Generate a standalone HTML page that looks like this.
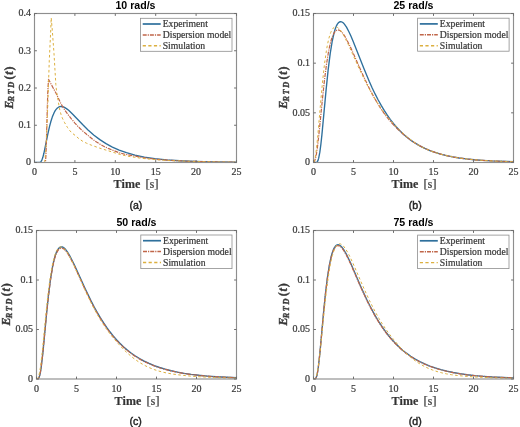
<!DOCTYPE html>
<html><head><meta charset="utf-8"><title>RTD curves</title><style>
html,body{margin:0;padding:0;background:#fff;}
svg{display:block;}
text{font-family:"Liberation Serif",serif;}
.tk,.lg,.xl,.yl{stroke:#444;stroke-width:0.22px;}
.tk{font-size:10.00px;fill:#333;}
.ti{font-family:"Liberation Sans",sans-serif;font-weight:bold;font-size:10.60px;fill:#000;}
.xl{font-size:11.50px;fill:#333;}
.xbr{font-size:12.90px;}
.xb{font-weight:bold;font-size:12.00px;letter-spacing:0.12px;}
.cap{font-family:"Liberation Sans",sans-serif;font-size:10.60px;fill:#222;stroke:#222;stroke-width:0.4px;}
.yl{font-weight:bold;font-style:italic;font-size:12.00px;fill:#333;stroke-width:0.4px;}
.ys{font-size:8.20px;letter-spacing:1.70px;}
.yp{font-size:12.00px;font-style:normal;letter-spacing:0.80px;}
.yt{font-style:italic;}
.lg{font-size:9.70px;fill:#333;}
</style></head><body>
<svg width="520" height="427" viewBox="0 0 520 427">
<defs><filter id="soft" x="0" y="0" width="100%" height="100%"><feGaussianBlur stdDeviation="0.6"/></filter></defs>
<rect width="520" height="427" fill="#fff"/>
<g filter="url(#soft)">
<clipPath id="clipa"><rect x="34.0" y="13.0" width="203.0" height="150.0"/></clipPath>
<g clip-path="url(#clipa)" fill="none" stroke-linejoin="round">
<path d="M34.50,162.50 L39.05,162.49 L39.95,162.38 L40.46,162.14 L40.96,161.69 L41.77,160.37 L42.78,157.59 L43.89,153.28 L47.83,134.07 L49.45,126.89 L50.86,121.53 L52.28,117.10 L54.20,112.51 L55.20,110.70 L56.32,109.14 L57.43,107.98 L58.54,107.19 L59.75,106.69 L61.06,106.51 L62.68,106.73 L64.50,107.44 L66.42,108.60 L68.64,110.34 L72.48,113.96 L82.58,124.55 L88.03,129.92 L93.99,135.17 L99.85,139.65 L106.01,143.65 L112.37,147.10 L119.14,150.11 L126.41,152.71 L135.00,155.10 L144.39,157.05 L154.79,158.62 L166.51,159.86 L179.74,160.79 L195.09,161.46 L213.47,161.93 L236.50,162.23" stroke="#2e6f9c" stroke-width="1.35" />
<path d="M34.50,162.50 L45.38,162.50 L45.48,162.23 L45.90,155.94 L46.18,148.66 L47.73,93.17 L48.50,79.30 L56.04,93.27 L60.75,103.22 L62.64,106.69 L64.99,110.36 L67.35,113.65 L71.59,119.10 L74.89,123.06 L78.18,126.67 L81.48,129.87 L89.02,136.36 L92.79,139.42 L96.56,142.05 L100.80,144.67 L104.57,146.70 L108.81,148.68 L118.23,152.41 L121.53,153.45 L124.83,154.25 L142.74,157.53 L147.92,158.28 L155.93,159.23 L168.65,160.27 L186.08,161.17 L215.30,161.96 L236.50,162.20" stroke="#c0664a" stroke-width="1.2" stroke-dasharray="4,1,1.2,1" />
<path d="M34.50,162.50 L44.34,162.49 L44.63,161.50 L44.96,159.03 L45.76,150.71 L46.51,137.63 L47.94,101.82 L49.27,60.65 L50.78,29.42 L51.20,17.80 L52.13,28.13 L53.99,53.38 L55.84,84.50 L56.31,88.94 L57.24,95.62 L59.56,108.94 L60.95,114.22 L62.35,118.10 L64.67,122.74 L67.45,127.45 L69.31,130.02 L71.17,132.17 L72.56,133.42 L75.35,135.57 L79.06,138.82 L82.78,141.32 L86.50,143.20 L91.60,145.27 L99.50,148.08 L120.86,154.69 L127.36,156.09 L134.79,157.32 L142.69,158.41 L149.19,159.12 L159.41,159.97 L169.16,160.56 L196.56,161.52 L236.50,162.20" stroke="#dcb040" stroke-width="1.0" stroke-dasharray="2.6,2.4" />
</g>
<rect x="34.5" y="13.5" width="202.0" height="149.0" fill="none" stroke="#8e8e8e" stroke-width="1.15"/>
<path d="M34.50,162.50v-2.40 M34.50,13.50v2.40 M74.90,162.50v-2.40 M74.90,13.50v2.40 M115.30,162.50v-2.40 M115.30,13.50v2.40 M155.70,162.50v-2.40 M155.70,13.50v2.40 M196.10,162.50v-2.40 M196.10,13.50v2.40 M236.50,162.50v-2.40 M236.50,13.50v2.40 M34.50,162.50h2.40 M236.50,162.50h-2.40 M34.50,125.25h2.40 M236.50,125.25h-2.40 M34.50,88.00h2.40 M236.50,88.00h-2.40 M34.50,50.75h2.40 M236.50,50.75h-2.40 M34.50,13.50h2.40 M236.50,13.50h-2.40" stroke="#6e6e6e" stroke-width="1.0" fill="none"/>
<text x="34.50" y="174.80" class="tk" text-anchor="middle">0</text>
<text x="74.90" y="174.80" class="tk" text-anchor="middle">5</text>
<text x="115.30" y="174.80" class="tk" text-anchor="middle">10</text>
<text x="155.70" y="174.80" class="tk" text-anchor="middle">15</text>
<text x="196.10" y="174.80" class="tk" text-anchor="middle">20</text>
<text x="236.50" y="174.80" class="tk" text-anchor="middle">25</text>
<text x="30.90" y="165.45" class="tk" text-anchor="end">0</text>
<text x="30.90" y="128.20" class="tk" text-anchor="end">0.1</text>
<text x="30.90" y="90.95" class="tk" text-anchor="end">0.2</text>
<text x="30.90" y="53.70" class="tk" text-anchor="end">0.3</text>
<text x="30.90" y="16.45" class="tk" text-anchor="end">0.4</text>
<text x="135.50" y="9.40" class="ti" text-anchor="middle">10 rad/s</text>
<text x="113.60" y="188.10" class="xl xb">Time</text>
<text x="145.40" y="188.10" class="xl"><tspan class="xbr">[</tspan>s<tspan class="xbr">]</tspan></text>
<text x="135.90" y="208.50" class="cap" text-anchor="middle">(a)</text>
<g transform="translate(12.70,108.70) rotate(-90)">
<text x="0" y="0" class="yl">E</text>
<text x="7.10" y="1.60" class="yl ys">RTD</text>
<text x="29.20" y="0" class="yl yp">(<tspan class="yt">t</tspan>)</text>
</g>
<rect x="140.5" y="18.3" width="91.5" height="33.0" fill="#fff" stroke="#8e8e8e" stroke-width="0.8"/>
<path d="M142.70,24.00h18" stroke="#2e6f9c" stroke-width="1.7" fill="none"/>
<text x="162.70" y="27.20" class="lg">Experiment</text>
<path d="M142.70,34.90h18" stroke="#c0664a" stroke-width="1.5" stroke-dasharray="4,1,1.2,1" fill="none"/>
<text x="162.70" y="38.10" class="lg">Dispersion model</text>
<path d="M142.70,45.80h18" stroke="#dcb040" stroke-width="1.4" stroke-dasharray="3.2,2.4" fill="none"/>
<text x="162.70" y="49.00" class="lg">Simulation</text>
<clipPath id="clipb"><rect x="313.0" y="13.0" width="201.0" height="150.0"/></clipPath>
<g clip-path="url(#clipb)" fill="none" stroke-linejoin="round">
<path d="M313.50,162.50 L316.30,162.39 L316.90,162.09 L317.50,161.40 L318.10,160.13 L318.70,158.14 L319.80,152.41 L320.80,144.99 L321.90,134.89 L326.10,89.82 L328.10,70.42 L330.20,53.61 L332.30,40.74 L334.20,32.32 L335.20,29.00 L336.20,26.37 L337.20,24.39 L338.30,22.87 L339.40,21.98 L340.60,21.66 L341.50,21.80 L342.40,22.24 L343.40,23.03 L344.40,24.12 L346.50,27.19 L348.90,31.71 L350.90,36.06 L353.20,41.51 L363.70,68.12 L369.20,81.27 L372.20,87.93 L375.20,94.18 L378.20,100.01 L381.20,105.43 L384.20,110.44 L387.30,115.20 L390.40,119.57 L393.60,123.69 L396.90,127.56 L400.20,131.05 L403.70,134.40 L407.30,137.48 L411.40,140.59 L415.70,143.45 L420.20,146.06 L424.90,148.40 L429.90,150.53 L435.10,152.41 L440.60,154.08 L446.50,155.57 L452.70,156.85 L459.30,157.96 L466.40,158.91 L474.10,159.71 L482.50,160.39 L491.70,160.94 L513.50,161.74" stroke="#2e6f9c" stroke-width="1.35" />
<path d="M313.50,162.25 L314.10,161.74 L314.60,160.94 L315.50,158.36 L316.40,154.11 L317.30,148.23 L318.90,134.60 L322.70,96.46 L324.50,79.90 L326.50,64.28 L328.50,51.92 L329.50,46.93 L330.60,42.30 L331.70,38.52 L332.90,35.29 L334.10,32.89 L335.30,31.25 L336.60,30.23 L337.30,29.97 L338.00,29.89 L338.90,30.04 L339.90,30.50 L340.90,31.24 L341.90,32.22 L344.10,35.12 L346.60,39.33 L351.00,48.26 L362.00,73.02 L367.90,85.53 L371.10,91.83 L374.30,97.73 L377.50,103.24 L380.70,108.35 L383.60,112.63 L386.70,116.81 L390.00,120.88 L393.50,124.84 L397.10,128.57 L400.90,132.17 L404.80,135.55 L408.70,138.63 L413.00,141.68 L417.40,144.46 L421.80,146.89 L426.30,149.03 L431.20,151.03 L436.30,152.80 L441.80,154.41 L447.60,155.82 L453.70,157.04 L460.20,158.09 L467.20,159.00 L474.80,159.78 L483.00,160.42 L492.10,160.96 L513.50,161.74" stroke="#c0664a" stroke-width="1.2" stroke-dasharray="4,1,1.2,1" />
<path d="M313.50,162.16 L313.90,161.69 L314.30,160.89 L315.00,158.46 L315.70,154.59 L316.50,148.46 L317.80,135.51 L321.00,98.24 L322.70,80.14 L324.50,64.01 L326.40,50.62 L327.40,45.01 L328.50,39.89 L329.60,35.77 L330.70,32.55 L331.90,29.97 L333.10,28.23 L334.40,27.16 L335.00,26.93 L335.70,26.84 L336.60,26.99 L337.50,27.41 L338.40,28.06 L339.40,29.03 L341.50,31.76 L343.90,35.75 L348.10,44.14 L359.40,69.18 L365.50,81.87 L368.90,88.42 L372.20,94.37 L375.60,100.08 L379.00,105.37 L382.40,110.26 L385.80,114.73 L389.70,119.44 L393.90,124.14 L398.30,128.71 L402.80,133.03 L407.20,136.91 L411.40,140.27 L415.40,143.14 L419.30,145.60 L423.20,147.72 L427.20,149.56 L432.10,151.48 L437.30,153.21 L442.80,154.75 L448.70,156.12 L454.70,157.27 L461.10,158.26 L468.00,159.13 L475.50,159.87 L492.50,161.00 L513.50,161.75" stroke="#dcb040" stroke-width="1.0" stroke-dasharray="2.6,2.4" />
</g>
<rect x="313.5" y="13.5" width="200.0" height="149.0" fill="none" stroke="#8e8e8e" stroke-width="1.15"/>
<path d="M313.50,162.50v-2.40 M313.50,13.50v2.40 M353.50,162.50v-2.40 M353.50,13.50v2.40 M393.50,162.50v-2.40 M393.50,13.50v2.40 M433.50,162.50v-2.40 M433.50,13.50v2.40 M473.50,162.50v-2.40 M473.50,13.50v2.40 M513.50,162.50v-2.40 M513.50,13.50v2.40 M313.50,162.50h2.40 M513.50,162.50h-2.40 M313.50,112.83h2.40 M513.50,112.83h-2.40 M313.50,63.17h2.40 M513.50,63.17h-2.40 M313.50,13.50h2.40 M513.50,13.50h-2.40" stroke="#6e6e6e" stroke-width="1.0" fill="none"/>
<text x="313.50" y="174.80" class="tk" text-anchor="middle">0</text>
<text x="353.50" y="174.80" class="tk" text-anchor="middle">5</text>
<text x="393.50" y="174.80" class="tk" text-anchor="middle">10</text>
<text x="433.50" y="174.80" class="tk" text-anchor="middle">15</text>
<text x="473.50" y="174.80" class="tk" text-anchor="middle">20</text>
<text x="513.50" y="174.80" class="tk" text-anchor="middle">25</text>
<text x="309.90" y="165.45" class="tk" text-anchor="end">0</text>
<text x="309.90" y="115.78" class="tk" text-anchor="end">0.05</text>
<text x="309.90" y="66.12" class="tk" text-anchor="end">0.1</text>
<text x="309.90" y="16.45" class="tk" text-anchor="end">0.15</text>
<text x="413.50" y="9.40" class="ti" text-anchor="middle">25 rad/s</text>
<text x="391.60" y="188.10" class="xl xb">Time</text>
<text x="423.40" y="188.10" class="xl"><tspan class="xbr">[</tspan>s<tspan class="xbr">]</tspan></text>
<text x="415.30" y="208.50" class="cap" text-anchor="middle">(b)</text>
<g transform="translate(287.30,108.70) rotate(-90)">
<text x="0" y="0" class="yl">E</text>
<text x="7.10" y="1.60" class="yl ys">RTD</text>
<text x="29.20" y="0" class="yl yp">(<tspan class="yt">t</tspan>)</text>
</g>
<rect x="417.6" y="18.2" width="91.5" height="33.0" fill="#fff" stroke="#8e8e8e" stroke-width="0.8"/>
<path d="M419.80,23.90h18" stroke="#2e6f9c" stroke-width="1.7" fill="none"/>
<text x="439.80" y="27.10" class="lg">Experiment</text>
<path d="M419.80,34.80h18" stroke="#c0664a" stroke-width="1.5" stroke-dasharray="4,1,1.2,1" fill="none"/>
<text x="439.80" y="38.00" class="lg">Dispersion model</text>
<path d="M419.80,45.70h18" stroke="#dcb040" stroke-width="1.4" stroke-dasharray="3.2,2.4" fill="none"/>
<text x="439.80" y="48.90" class="lg">Simulation</text>
<clipPath id="clipc"><rect x="36.0" y="230.0" width="201.0" height="149.5"/></clipPath>
<g clip-path="url(#clipc)" fill="none" stroke-linejoin="round">
<path d="M36.50,379.00 L37.60,378.93 L38.20,378.68 L38.70,378.15 L39.20,377.18 L40.10,374.03 L41.10,368.19 L42.80,353.57 L46.50,314.23 L48.40,295.88 L50.40,279.85 L52.40,267.44 L53.40,262.52 L54.40,258.40 L55.50,254.71 L56.60,251.84 L57.70,249.69 L58.90,248.09 L60.10,247.17 L61.40,246.85 L62.30,246.98 L63.20,247.38 L64.20,248.08 L65.20,249.03 L67.40,251.85 L69.90,255.99 L74.20,264.53 L85.10,288.51 L90.90,300.56 L94.10,306.74 L97.20,312.37 L100.30,317.65 L103.50,322.73 L106.70,327.43 L109.90,331.78 L113.20,335.92 L116.50,339.71 L119.90,343.29 L123.40,346.65 L127.00,349.78 L130.70,352.70 L135.00,355.73 L139.50,358.54 L144.20,361.11 L149.10,363.46 L154.20,365.57 L159.60,367.50 L165.20,369.21 L171.20,370.76 L177.50,372.12 L184.10,373.31 L191.20,374.36 L198.90,375.28 L207.10,376.05 L216.00,376.72 L236.50,377.73" stroke="#2e6f9c" stroke-width="1.35" />
<path d="M36.50,379.00 L37.50,378.94 L38.10,378.70 L38.60,378.19 L39.10,377.27 L39.60,375.83 L40.10,373.80 L41.10,367.94 L42.80,353.42 L46.50,314.66 L48.40,296.57 L50.40,280.76 L52.40,268.50 L53.40,263.64 L54.40,259.56 L55.50,255.90 L56.60,253.05 L57.70,250.92 L58.90,249.33 L60.10,248.42 L61.40,248.09 L62.30,248.22 L63.20,248.61 L64.20,249.30 L65.20,250.24 L67.40,253.04 L69.90,257.14 L74.20,265.62 L85.10,289.45 L90.90,301.43 L94.10,307.57 L97.20,313.17 L100.30,318.41 L103.50,323.45 L106.70,328.13 L109.90,332.44 L113.20,336.54 L116.50,340.30 L119.90,343.85 L123.40,347.18 L127.00,350.28 L130.70,353.17 L135.00,356.16 L139.50,358.94 L144.10,361.43 L149.00,363.74 L154.10,365.83 L159.50,367.74 L165.10,369.42 L171.10,370.95 L177.40,372.29 L184.00,373.45 L191.10,374.48 L198.80,375.38 L207.00,376.15 L215.90,376.79 L236.50,377.78" stroke="#c0664a" stroke-width="1.2" stroke-dasharray="4,1,1.2,1" />
<path d="M36.50,378.96 L37.20,378.72 L37.70,378.28 L38.20,377.45 L38.70,376.15 L39.60,372.40 L40.60,366.10 L42.30,351.28 L45.90,313.91 L47.70,296.82 L49.70,280.84 L51.70,268.32 L52.70,263.31 L53.80,258.70 L54.90,254.97 L56.00,252.05 L57.10,249.85 L58.30,248.19 L59.60,247.17 L60.90,246.85 L61.80,246.98 L62.70,247.38 L63.70,248.09 L64.70,249.06 L66.90,251.92 L69.30,255.93 L71.30,259.78 L73.70,264.80 L84.70,289.45 L90.60,301.89 L93.90,308.34 L97.10,314.20 L100.30,319.66 L103.50,324.73 L106.90,329.70 L110.40,334.39 L114.60,339.51 L119.00,344.55 L123.00,348.81 L126.80,352.51 L130.60,355.87 L134.40,358.89 L138.20,361.57 L142.00,363.93 L145.90,366.04 L149.90,367.90 L154.10,369.55 L158.40,370.97 L163.00,372.20 L167.80,373.23 L173.20,374.13 L180.60,375.10 L188.10,375.88 L196.20,376.55 L214.30,377.57 L236.50,378.26" stroke="#dcb040" stroke-width="1.0" stroke-dasharray="2.6,2.4" />
</g>
<rect x="36.5" y="230.5" width="200.0" height="148.5" fill="none" stroke="#8e8e8e" stroke-width="1.15"/>
<path d="M36.50,379.00v-2.40 M36.50,230.50v2.40 M76.50,379.00v-2.40 M76.50,230.50v2.40 M116.50,379.00v-2.40 M116.50,230.50v2.40 M156.50,379.00v-2.40 M156.50,230.50v2.40 M196.50,379.00v-2.40 M196.50,230.50v2.40 M236.50,379.00v-2.40 M236.50,230.50v2.40 M36.50,379.00h2.40 M236.50,379.00h-2.40 M36.50,329.50h2.40 M236.50,329.50h-2.40 M36.50,280.00h2.40 M236.50,280.00h-2.40 M36.50,230.50h2.40 M236.50,230.50h-2.40" stroke="#6e6e6e" stroke-width="1.0" fill="none"/>
<text x="36.50" y="391.90" class="tk" text-anchor="middle">0</text>
<text x="76.50" y="391.90" class="tk" text-anchor="middle">5</text>
<text x="116.50" y="391.90" class="tk" text-anchor="middle">10</text>
<text x="156.50" y="391.90" class="tk" text-anchor="middle">15</text>
<text x="196.50" y="391.90" class="tk" text-anchor="middle">20</text>
<text x="236.50" y="391.90" class="tk" text-anchor="middle">25</text>
<text x="32.90" y="381.95" class="tk" text-anchor="end">0</text>
<text x="32.90" y="332.45" class="tk" text-anchor="end">0.05</text>
<text x="32.90" y="282.95" class="tk" text-anchor="end">0.1</text>
<text x="32.90" y="233.45" class="tk" text-anchor="end">0.15</text>
<text x="136.50" y="226.40" class="ti" text-anchor="middle">50 rad/s</text>
<text x="114.60" y="404.60" class="xl xb">Time</text>
<text x="146.40" y="404.60" class="xl"><tspan class="xbr">[</tspan>s<tspan class="xbr">]</tspan></text>
<text x="135.60" y="425.00" class="cap" text-anchor="middle">(c)</text>
<g transform="translate(10.30,325.45) rotate(-90)">
<text x="0" y="0" class="yl">E</text>
<text x="7.10" y="1.60" class="yl ys">RTD</text>
<text x="29.20" y="0" class="yl yp">(<tspan class="yt">t</tspan>)</text>
</g>
<rect x="140.8" y="235.0" width="91.2" height="33.6" fill="#fff" stroke="#8e8e8e" stroke-width="0.8"/>
<path d="M143.00,240.70h18" stroke="#2e6f9c" stroke-width="1.7" fill="none"/>
<text x="163.00" y="243.90" class="lg">Experiment</text>
<path d="M143.00,251.60h18" stroke="#c0664a" stroke-width="1.5" stroke-dasharray="4,1,1.2,1" fill="none"/>
<text x="163.00" y="254.80" class="lg">Dispersion model</text>
<path d="M143.00,262.50h18" stroke="#dcb040" stroke-width="1.4" stroke-dasharray="3.2,2.4" fill="none"/>
<text x="163.00" y="265.70" class="lg">Simulation</text>
<clipPath id="clipd"><rect x="313.0" y="230.0" width="201.0" height="149.5"/></clipPath>
<g clip-path="url(#clipd)" fill="none" stroke-linejoin="round">
<path d="M313.50,379.00 L314.70,378.95 L315.30,378.74 L315.80,378.25 L316.30,377.33 L316.80,375.84 L317.30,373.72 L318.20,368.24 L319.90,353.06 L323.60,312.14 L325.40,294.12 L327.30,278.29 L329.30,265.38 L331.20,256.46 L332.20,252.93 L333.30,249.89 L334.40,247.63 L335.50,246.07 L336.70,245.07 L337.30,244.82 L338.00,244.72 L338.90,244.86 L339.80,245.27 L340.70,245.93 L341.70,246.92 L343.80,249.73 L346.20,253.86 L350.40,262.57 L361.20,287.42 L366.90,299.79 L370.00,306.03 L373.10,311.90 L376.20,317.38 L379.30,322.48 L382.40,327.21 L385.60,331.72 L388.90,335.99 L392.20,339.89 L395.60,343.57 L399.10,347.00 L402.70,350.20 L406.40,353.17 L410.70,356.24 L415.20,359.07 L419.80,361.60 L424.70,363.95 L429.80,366.06 L435.20,367.97 L440.90,369.69 L446.90,371.21 L453.20,372.53 L459.90,373.70 L467.10,374.72 L474.90,375.60 L483.30,376.35 L492.40,376.97 L513.50,377.91" stroke="#2e6f9c" stroke-width="1.35" />
<path d="M313.50,379.00 L314.70,378.95 L315.30,378.72 L315.80,378.23 L316.30,377.29 L316.80,375.79 L317.30,373.65 L318.20,368.17 L319.90,353.05 L323.60,312.40 L325.40,294.53 L327.30,278.83 L329.30,266.04 L331.20,257.20 L332.20,253.72 L333.30,250.71 L334.40,248.48 L335.50,246.95 L336.70,245.97 L337.30,245.73 L338.00,245.64 L338.90,245.79 L339.80,246.21 L340.70,246.88 L341.70,247.88 L343.80,250.69 L346.20,254.81 L350.40,263.50 L361.10,288.02 L366.80,300.34 L369.90,306.56 L373.00,312.40 L376.10,317.86 L379.20,322.94 L382.30,327.64 L385.50,332.13 L388.80,336.37 L392.10,340.26 L395.50,343.91 L399.00,347.32 L402.60,350.50 L406.30,353.44 L410.60,356.49 L415.10,359.30 L419.70,361.81 L424.60,364.14 L429.70,366.23 L435.10,368.13 L440.80,369.82 L446.80,371.32 L453.10,372.64 L459.80,373.79 L467.00,374.79 L474.80,375.66 L483.20,376.40 L492.30,377.01 L513.50,377.94" stroke="#c0664a" stroke-width="1.2" stroke-dasharray="4,1,1.2,1" />
<path d="M313.50,378.99 L314.40,378.88 L315.10,378.48 L315.70,377.71 L316.20,376.63 L317.20,373.06 L318.30,366.79 L320.20,351.20 L324.20,311.11 L326.10,293.68 L328.20,277.47 L330.30,264.79 L331.30,259.96 L332.40,255.50 L333.50,251.86 L334.60,248.99 L335.80,246.65 L337.00,245.06 L338.30,244.08 L339.60,243.79 L340.50,243.93 L341.50,244.40 L342.50,245.15 L343.50,246.14 L345.70,249.07 L348.20,253.35 L350.30,257.50 L352.70,262.66 L363.80,288.18 L369.60,300.75 L372.80,307.18 L376.00,313.22 L379.10,318.68 L382.30,323.91 L385.60,328.90 L388.90,333.49 L393.60,339.52 L397.90,344.67 L401.70,348.86 L405.40,352.60 L409.10,355.99 L412.80,359.02 L416.60,361.79 L420.40,364.23 L424.30,366.40 L428.40,368.36 L432.70,370.09 L437.10,371.56 L441.80,372.84 L446.70,373.91 L451.70,374.75 L457.10,375.45 L464.80,376.20 L473.10,376.83 L491.20,377.76 L513.50,378.37" stroke="#dcb040" stroke-width="1.0" stroke-dasharray="2.6,2.4" />
</g>
<rect x="313.5" y="230.5" width="200.0" height="148.5" fill="none" stroke="#8e8e8e" stroke-width="1.15"/>
<path d="M313.50,379.00v-2.40 M313.50,230.50v2.40 M353.50,379.00v-2.40 M353.50,230.50v2.40 M393.50,379.00v-2.40 M393.50,230.50v2.40 M433.50,379.00v-2.40 M433.50,230.50v2.40 M473.50,379.00v-2.40 M473.50,230.50v2.40 M513.50,379.00v-2.40 M513.50,230.50v2.40 M313.50,379.00h2.40 M513.50,379.00h-2.40 M313.50,329.50h2.40 M513.50,329.50h-2.40 M313.50,280.00h2.40 M513.50,280.00h-2.40 M313.50,230.50h2.40 M513.50,230.50h-2.40" stroke="#6e6e6e" stroke-width="1.0" fill="none"/>
<text x="313.50" y="391.90" class="tk" text-anchor="middle">0</text>
<text x="353.50" y="391.90" class="tk" text-anchor="middle">5</text>
<text x="393.50" y="391.90" class="tk" text-anchor="middle">10</text>
<text x="433.50" y="391.90" class="tk" text-anchor="middle">15</text>
<text x="473.50" y="391.90" class="tk" text-anchor="middle">20</text>
<text x="513.50" y="391.90" class="tk" text-anchor="middle">25</text>
<text x="309.90" y="381.95" class="tk" text-anchor="end">0</text>
<text x="309.90" y="332.45" class="tk" text-anchor="end">0.05</text>
<text x="309.90" y="282.95" class="tk" text-anchor="end">0.1</text>
<text x="309.90" y="233.45" class="tk" text-anchor="end">0.15</text>
<text x="413.50" y="226.40" class="ti" text-anchor="middle">75 rad/s</text>
<text x="391.60" y="404.60" class="xl xb">Time</text>
<text x="423.40" y="404.60" class="xl"><tspan class="xbr">[</tspan>s<tspan class="xbr">]</tspan></text>
<text x="415.30" y="425.00" class="cap" text-anchor="middle">(d)</text>
<g transform="translate(287.30,325.45) rotate(-90)">
<text x="0" y="0" class="yl">E</text>
<text x="7.10" y="1.60" class="yl ys">RTD</text>
<text x="29.20" y="0" class="yl yp">(<tspan class="yt">t</tspan>)</text>
</g>
<rect x="417.6" y="235.1" width="91.4" height="33.5" fill="#fff" stroke="#8e8e8e" stroke-width="0.8"/>
<path d="M419.80,240.80h18" stroke="#2e6f9c" stroke-width="1.7" fill="none"/>
<text x="439.80" y="244.00" class="lg">Experiment</text>
<path d="M419.80,251.70h18" stroke="#c0664a" stroke-width="1.5" stroke-dasharray="4,1,1.2,1" fill="none"/>
<text x="439.80" y="254.90" class="lg">Dispersion model</text>
<path d="M419.80,262.60h18" stroke="#dcb040" stroke-width="1.4" stroke-dasharray="3.2,2.4" fill="none"/>
<text x="439.80" y="265.80" class="lg">Simulation</text>
</g>
</svg>
</body></html>
